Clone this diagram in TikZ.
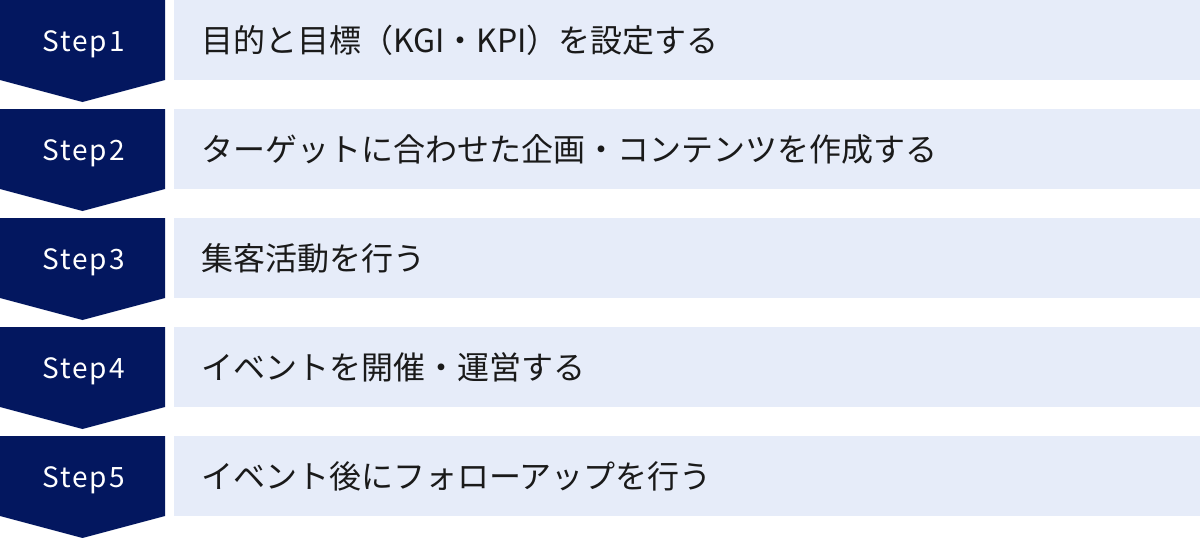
\documentclass[tikz,border=0pt]{standalone}
\usepackage{fontspec}
\setmainfont{Noto Sans CJK JP}
\newfontfamily\stepfont[LetterSpace=7]{Noto Sans CJK JP}
\definecolor{navy}{HTML}{03175F}
\definecolor{lightbox}{HTML}{E6ECF9}
\definecolor{txt}{HTML}{1A1A1A}
\begin{document}
\begin{tikzpicture}[x=1pt,y=-1pt,
  chevron/.style={fill=navy,draw=none},
  band/.style={fill=lightbox,draw=none},
  steplabel/.style={text=white,anchor=base,inner sep=0pt,font=\stepfont\fontsize{28}{32}\selectfont},
  desc/.style={text=txt,anchor=west,inner sep=0pt,font=\fontsize{32}{38}\selectfont}]
\useasboundingbox (0,0) rectangle (1200,538);
\foreach \i/\t in {1/目的と目標（KGI・KPI）を設定する,
                   2/ターゲットに合わせた企画・コンテンツを作成する,
                   3/集客活動を行う,
                   4/イベントを開催・運営する,
                   5/イベント後にフォローアップを行う}{
  \pgfmathsetmacro{\yt}{(\i-1)*109}
  \fill[chevron] (0,\yt) -- (165,\yt) -- (165,\yt+80) -- (82.5,\yt+102) -- (0,\yt+80) -- cycle;
  \fill[band] (174,\yt) rectangle (1200,\yt+80);
  \node[steplabel] (s\i) at (83.5,\yt+51) {Step\i};
  \node[desc] (d\i) at (201,\yt+40) {\t};
}
\end{tikzpicture}
\end{document}
